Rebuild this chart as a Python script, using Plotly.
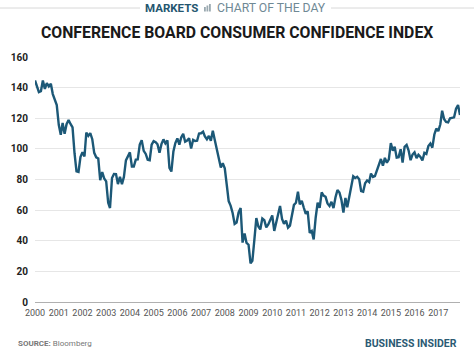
import pandas as pd
import plotly.graph_objects as go

# Monthly Conference Board Consumer Confidence Index, Jan 2000 - Dec 2017
values_2000 = [144.7, 140.8, 137.1, 137.7, 144.7, 139.2, 143.0, 140.8, 142.5, 135.8, 132.6, 128.6]
values_2001 = [115.7, 109.2, 116.9, 109.9, 116.1, 118.9, 116.3, 114.0, 97.0, 85.3, 84.9, 94.6]
values_2002 = [97.8, 95.0, 110.7, 108.5, 110.3, 106.3, 97.4, 94.5, 93.7, 79.6, 84.9, 80.7]
values_2003 = [78.8, 64.8, 61.4, 81.0, 83.6, 83.5, 77.0, 81.7, 77.0, 81.7, 92.5, 94.8]
values_2004 = [97.7, 88.5, 88.5, 93.0, 93.1, 102.8, 105.7, 98.7, 96.7, 92.9, 92.6, 102.7]
values_2005 = [105.1, 104.4, 103.0, 97.5, 103.1, 106.2, 103.6, 105.5, 87.5, 85.2, 98.3, 103.8]
values_2006 = [106.8, 102.7, 107.5, 109.8, 104.7, 105.4, 107.0, 100.2, 105.9, 105.1, 105.3, 110.0]
values_2007 = [110.2, 111.2, 108.2, 106.3, 108.5, 105.3, 111.9, 105.6, 99.5, 95.2, 87.8, 90.6]
values_2008 = [87.3, 76.4, 65.9, 62.8, 58.1, 51.0, 51.9, 58.5, 61.4, 38.8, 44.7, 38.6]
values_2009 = [37.4, 25.3, 26.9, 40.8, 54.8, 49.3, 47.4, 54.5, 53.4, 48.7, 50.6, 53.6]
values_2010 = [56.5, 46.4, 52.3, 57.7, 62.7, 54.3, 51.0, 53.2, 48.6, 49.9, 57.8, 63.4]
values_2011 = [64.8, 72.0, 63.8, 66.0, 61.7, 57.6, 59.2, 45.2, 46.4, 40.9, 55.2, 64.8]
values_2012 = [61.5, 71.6, 69.5, 68.7, 64.4, 62.7, 65.4, 61.3, 68.4, 73.1, 71.5, 66.7]
values_2013 = [58.4, 68.0, 61.9, 69.0, 76.2, 82.1, 81.0, 81.8, 80.2, 72.4, 72.0, 77.5]
values_2014 = [79.4, 78.3, 83.9, 81.7, 82.2, 86.4, 90.3, 93.4, 89.0, 94.1, 91.0, 93.1]
values_2015 = [103.8, 98.8, 101.4, 94.3, 94.6, 99.8, 91.0, 101.3, 102.6, 99.1, 92.6, 96.3]
values_2016 = [97.8, 94.0, 96.1, 94.7, 92.4, 97.4, 96.7, 101.8, 103.5, 100.8, 109.4, 113.3]
values_2017 = [111.6, 116.1, 124.9, 119.4, 117.6, 117.3, 120.0, 120.4, 120.6, 126.2, 128.6, 122.1]

index_values = (values_2000 + values_2001 + values_2002 + values_2003 + values_2004 +
                values_2005 + values_2006 + values_2007 + values_2008 + values_2009 +
                values_2010 + values_2011 + values_2012 + values_2013 + values_2014 +
                values_2015 + values_2016 + values_2017)
months = pd.date_range("2000-01-01", periods=len(index_values), freq="MS")

year_labels = [str(y) for y in range(2000, 2018)]
year_ticks = [f"{y}-01-01" for y in year_labels]
y_ticks = [0, 20, 40, 60, 80, 100, 120, 140, 160]

LINE = "#1c5877"
TEAL = "#24566f"

W, H = 474, 355
L, R, T, B = 35, 14, 57, 53
PW, PH = W - L - R, H - T - B


def px_x(v):
    return (v - L) / PW


def px_y(v):
    return (H - B - v) / PH


fig = go.Figure()
fig.add_trace(go.Scatter(x=months, y=index_values, mode="lines",
                         line=dict(color=LINE, width=2.4), hoverinfo="skip"))

fig.update_layout(
    width=W, height=H,
    margin=dict(l=L, r=R, t=T, b=B),
    paper_bgcolor="white", plot_bgcolor="white",
    showlegend=False,
    font=dict(family="Roboto, Arial, sans-serif"),
    xaxis=dict(type="date", range=[months[0], months[-1]],
               tickvals=year_ticks, ticktext=year_labels,
               showgrid=False, zeroline=False,
               showline=True, linecolor="#b0b0b0", linewidth=1,
               ticks="", tickfont=dict(size=9, color="#555555"),
               ticklabelstandoff=2),
    yaxis=dict(range=[0, 160], tickvals=y_ticks,
               showgrid=True, gridcolor="#e6e6e6", gridwidth=1,
               zeroline=False, showline=False, ticks="",
               tickfont=dict(size=10, color="#222222", weight="bold"),
               ticklabelstandoff=6),
)

# header
fig.add_annotation(xref="paper", yref="paper", x=px_x(200), y=px_y(8),
                   xanchor="right", yanchor="middle", showarrow=False,
                   text="<b>MARKETS</b>", font=dict(size=11.5, color=TEAL))
fig.add_annotation(xref="paper", yref="paper", x=px_x(215), y=px_y(8),
                   xanchor="left", yanchor="middle", showarrow=False,
                   text="CHART OF THE DAY", font=dict(size=12.2, color="#6f8995"))

# header side rules
for x0, x1 in [(0, 140), (331, 474)]:
    fig.add_shape(type="line", xref="paper", yref="paper",
                  x0=px_x(x0), x1=px_x(x1), y0=px_y(8), y1=px_y(8),
                  line=dict(color="#d8d8d8", width=1))
# small bar-chart icon
for bx, top in [(204, 7), (206.5, 5.5), (209, 4)]:
    fig.add_shape(type="rect", xref="paper", yref="paper",
                  x0=px_x(bx), x1=px_x(bx + 1.8), y0=px_y(11.5), y1=px_y(top),
                  line=dict(width=0), fillcolor="#9aa9b0")

# title
fig.add_annotation(xref="paper", yref="paper", x=px_x(237), y=px_y(33),
                   xanchor="center", yanchor="middle", showarrow=False,
                   text="<b>CONFERENCE BOARD CONSUMER CONFIDENCE INDEX</b>",
                   font=dict(size=15.8, color="#1a1a1a"))

# footer
fig.add_annotation(xref="paper", yref="paper", x=px_x(16), y=px_y(343),
                   xanchor="left", yanchor="middle", showarrow=False,
                   text="<b>SOURCE:</b> Bloomberg",
                   font=dict(size=8, color="#777777"))
fig.add_annotation(xref="paper", yref="paper", x=px_x(459), y=px_y(343),
                   xanchor="right", yanchor="middle", showarrow=False,
                   text="<b>BUSINESS INSIDER</b>",
                   font=dict(size=10.5, color="#2b5a73"))

fig.write_html("out.html", config={"displayModeBar": False},
               post_script="document.body.style.margin='0';document.body.style.overflow='hidden';")
